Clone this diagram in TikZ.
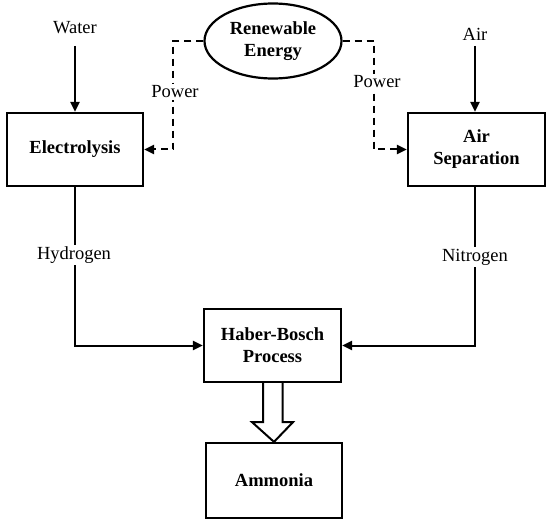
\documentclass[tikz,border=0pt]{standalone}
\usepackage{fontspec}
\setmainfont{Liberation Serif}
\usetikzlibrary{arrows.meta,shapes.geometric,calc}
\begin{document}
\begin{tikzpicture}[x=1pt,y=-1pt,
  font=\fontsize{18.5}{22}\selectfont,
  every node/.style={inner sep=1pt},
  procbox/.style={draw,line width=2.2pt,minimum width=136pt,minimum height=73pt,align=center,font=\fontsize{18.5}{22}\selectfont\bfseries},
  flow/.style={line width=2pt,-{Triangle[length=10pt,width=9pt]}},
  powerline/.style={line width=2pt,dash pattern=on 7pt off 5pt,-{Triangle[length=10pt,width=9pt]}},
  lbl/.style={fill=white,inner sep=2pt},
  hollow/.style={line width=2pt,fill=white,line join=miter}]
\useasboundingbox (0,0) rectangle (550,527);
% sources
\node (water) at (75,28) {Water};
\node (air) at (475,34) {Air};
\node[draw,ellipse,line width=2.2pt,minimum width=137pt,minimum height=75pt,inner sep=0pt,align=center,font=\fontsize{18.5}{22}\selectfont\bfseries] (ren) at (273,41) {Renewable\\Energy};
% process boxes
\node[procbox] (elec) at (75,149.5) {Electrolysis};
\node[procbox,minimum width=137pt] (airsep) at (476.5,149.5) {Air\\Separation};
\node[procbox,minimum width=137pt] (hb) at (272.5,345.5) {Haber-Bosch\\Process};
\node[procbox,minimum height=75pt] (amm) at (274,480.5) {Ammonia};
% coordinates
\coordinate (wtop) at (75,46);
\coordinate (atop) at (475,46);
\coordinate (lturn) at (173,41);
\coordinate (rturn) at (374,41);
% inputs
\draw[flow] (wtop) -- (elec.north);
\draw[flow] (atop) -- (atop |- airsep.north);
% power
\draw[powerline] (ren.west) -- (lturn) |- (elec.east);
\draw[powerline] (ren.east) -- (rturn) |- (airsep.west);
\node[lbl] (pl) at (175,92) {Power};
\node[lbl] (pr) at (377,82) {Power};
% gases
\draw[flow] (elec.south) |- (hb.west);
\draw[flow] (airsep.south -| atop) |- (hb.east);
\node[lbl] (h2) at (74,255) {Hydrogen};
\node[lbl] (n2) at (475,257) {Nitrogen};
% hollow arrow
\draw[hollow] ($(hb.south)+(-9.5,0)$) -- ++(0,39) -- ++(-11,0) -- (amm.north) -- ($(hb.south)+(20.5,39)$) -- ++(-10.5,0) -- ++(0,-39);
\end{tikzpicture}
\end{document}
